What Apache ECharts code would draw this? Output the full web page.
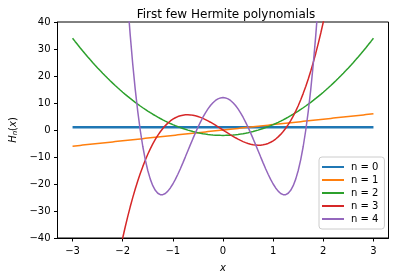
<!DOCTYPE html>
<html><head><meta charset="utf-8">
<script src="https://cdn.jsdelivr.net/npm/echarts@6/dist/echarts.min.js"></script>
<style>html,body{margin:0;padding:0;background:#fff}#c{width:394px;height:278px}</style>
</head><body><div id="c"></div>
<script>
const xs = [-3,-2.95,-2.9,-2.85,-2.8,-2.75,-2.7,-2.65,-2.6,-2.55,-2.5,-2.45,-2.4,-2.35,-2.3,-2.25,-2.2,-2.15,-2.1,-2.05,-2,-1.95,-1.9,-1.85,-1.8,-1.75,-1.7,-1.65,-1.6,-1.55,-1.5,-1.45,-1.4,-1.35,-1.3,-1.25,-1.2,-1.15,-1.1,-1.05,-1,-0.95,-0.9,-0.85,-0.8,-0.75,-0.7,-0.65,-0.6,-0.55,-0.5,-0.45,-0.4,-0.35,-0.3,-0.25,-0.2,-0.15,-0.1,-0.05,0,0.05,0.1,0.15,0.2,0.25,0.3,0.35,0.4,0.45,0.5,0.55,0.6,0.65,0.7,0.75,0.8,0.85,0.9,0.95,1,1.05,1.1,1.15,1.2,1.25,1.3,1.35,1.4,1.45,1.5,1.55,1.6,1.65,1.7,1.75,1.8,1.85,1.9,1.95,2,2.05,2.1,2.15,2.2,2.25,2.3,2.35,2.4,2.45,2.5,2.55,2.6,2.65,2.7,2.75,2.8,2.85,2.9,2.95,3];
const h0 = [1,1,1,1,1,1,1,1,1,1,1,1,1,1,1,1,1,1,1,1,1,1,1,1,1,1,1,1,1,1,1,1,1,1,1,1,1,1,1,1,1,1,1,1,1,1,1,1,1,1,1,1,1,1,1,1,1,1,1,1,1,1,1,1,1,1,1,1,1,1,1,1,1,1,1,1,1,1,1,1,1,1,1,1,1,1,1,1,1,1,1,1,1,1,1,1,1,1,1,1,1,1,1,1,1,1,1,1,1,1,1,1,1,1,1,1,1,1,1,1,1];
const h1 = [-6,-5.9,-5.8,-5.7,-5.6,-5.5,-5.4,-5.3,-5.2,-5.1,-5,-4.9,-4.8,-4.7,-4.6,-4.5,-4.4,-4.3,-4.2,-4.1,-4,-3.9,-3.8,-3.7,-3.6,-3.5,-3.4,-3.3,-3.2,-3.1,-3,-2.9,-2.8,-2.7,-2.6,-2.5,-2.4,-2.3,-2.2,-2.1,-2,-1.9,-1.8,-1.7,-1.6,-1.5,-1.4,-1.3,-1.2,-1.1,-1,-0.9,-0.8,-0.7,-0.6,-0.5,-0.4,-0.3,-0.2,-0.1,0,0.1,0.2,0.3,0.4,0.5,0.6,0.7,0.8,0.9,1,1.1,1.2,1.3,1.4,1.5,1.6,1.7,1.8,1.9,2,2.1,2.2,2.3,2.4,2.5,2.6,2.7,2.8,2.9,3,3.1,3.2,3.3,3.4,3.5,3.6,3.7,3.8,3.9,4,4.1,4.2,4.3,4.4,4.5,4.6,4.7,4.8,4.9,5,5.1,5.2,5.3,5.4,5.5,5.6,5.7,5.8,5.9,6];
const h2 = [34,32.81,31.64,30.49,29.36,28.25,27.16,26.09,25.04,24.01,23,22.01,21.04,20.09,19.16,18.25,17.36,16.49,15.64,14.81,14,13.21,12.44,11.69,10.96,10.25,9.56,8.89,8.24,7.61,7,6.41,5.84,5.29,4.76,4.25,3.76,3.29,2.84,2.41,2,1.61,1.24,0.89,0.56,0.25,-0.04,-0.31,-0.56,-0.79,-1,-1.19,-1.36,-1.51,-1.64,-1.75,-1.84,-1.91,-1.96,-1.99,-2,-1.99,-1.96,-1.91,-1.84,-1.75,-1.64,-1.51,-1.36,-1.19,-1,-0.79,-0.56,-0.31,-0.04,0.25,0.56,0.89,1.24,1.61,2,2.41,2.84,3.29,3.76,4.25,4.76,5.29,5.84,6.41,7,7.61,8.24,8.89,9.56,10.25,10.96,11.69,12.44,13.21,14,14.81,15.64,16.49,17.36,18.25,19.16,20.09,21.04,22.01,23,24.01,25.04,26.09,27.16,28.25,29.36,30.49,31.64,32.81,34];
const h3 = [-180,-169.98,-160.31,-150.99,-142.02,-133.38,-125.06,-117.08,-109.41,-102.05,-95,-88.25,-81.79,-75.62,-69.74,-64.13,-58.78,-53.71,-48.89,-44.32,-40,-35.92,-32.07,-28.45,-25.06,-21.88,-18.9,-16.14,-13.57,-11.19,-9,-6.99,-5.15,-3.48,-1.98,-0.63,0.58,1.63,2.55,3.34,4,4.54,4.97,5.29,5.5,5.63,5.66,5.6,5.47,5.27,5,4.67,4.29,3.86,3.38,2.88,2.34,1.77,1.19,0.6,0,-0.6,-1.19,-1.77,-2.34,-2.88,-3.38,-3.86,-4.29,-4.67,-5,-5.27,-5.47,-5.6,-5.66,-5.63,-5.5,-5.29,-4.97,-4.54,-4,-3.34,-2.55,-1.63,-0.58,0.63,1.98,3.48,5.15,6.99,9,11.19,13.57,16.14,18.9,21.88,25.06,28.45,32.07,35.92,40,44.32,48.89,53.71,58.78,64.13,69.74,75.62,81.79,88.25,95,102.05,109.41,117.08,125.06,133.38,142.02,150.99,160.31,169.98,180];
const h4 = [876,806.02,739.97,677.72,619.13,564.06,512.39,463.97,418.68,376.4,337,300.36,266.36,234.89,205.83,179.06,154.49,132,111.49,92.86,76,60.82,47.23,35.14,24.44,15.06,6.91,-0.09,-6.02,-10.97,-15,-18.19,-20.61,-22.34,-23.42,-23.94,-23.94,-23.5,-22.65,-21.47,-20,-18.29,-16.38,-14.33,-12.17,-9.94,-7.68,-5.42,-3.21,-1.06,1,2.94,4.73,6.36,7.81,9.06,10.11,10.93,11.52,11.88,12,11.88,11.52,10.93,10.11,9.06,7.81,6.36,4.73,2.94,1,-1.06,-3.21,-5.42,-7.68,-9.94,-12.17,-14.33,-16.38,-18.29,-20,-21.47,-22.65,-23.5,-23.94,-23.94,-23.42,-22.34,-20.61,-18.19,-15,-10.97,-6.02,-0.09,6.91,15.06,24.44,35.14,47.23,60.82,76,92.86,111.49,132,154.49,179.06,205.83,234.89,266.36,300.36,337,376.4,418.68,463.97,512.39,564.06,619.13,677.72,739.97,806.02,876];
const names = ['n = 0','n = 1','n = 2','n = 3','n = 4'];
const colors = ['#1f77b4','#ff7f0e','#2ca02c','#d62728','#9467bd'];
const xTicks = [-3,-2,-1,0,1,2,3];
const series = [h0,h1,h2,h3,h4];
const font = 'DejaVu Sans';
const minus = v => String(v).replace('-', '\u2212');
const chart = echarts.init(document.getElementById('c'), null, {renderer:'canvas'});
chart.setOption({
  animation:false,
  color: colors,
  title:{text:'First few Hermite polynomials', left:221, textAlign:'center', top:4,
    textStyle:{fontFamily:font,fontSize:12,fontWeight:'normal',color:'#000'}},
  grid:{left:53.5,right:5.5,top:22,bottom:38,show:true,borderColor:'#000',borderWidth:1,backgroundColor:'transparent'},
  legend:{orient:'vertical', left:319, top:157, width:64,
    backgroundColor:'rgba(255,255,255,0.8)', borderColor:'#ccc', borderWidth:1, borderRadius:3,
    padding:[5,6,5,3], itemWidth:22, itemHeight:2, itemGap:3, icon:'rect',
    textStyle:{fontFamily:font,fontSize:10,color:'#000',padding:[0,0,0,2]},
    data:names},
  xAxis:{type:'value', min:-3.3, max:3.3,
    name:'x', nameLocation:'middle', nameGap:25,
    nameTextStyle:{fontFamily:font,fontSize:10,fontStyle:'italic',color:'#000'},
    axisLine:{show:true,onZero:false,lineStyle:{color:'#000',width:1}},
    axisTick:{show:true,length:3.5,lineStyle:{color:'#000'},customValues:xTicks},
    axisLabel:{fontFamily:font,fontSize:10,color:'#000',margin:8,customValues:xTicks,formatter:minus},
    splitLine:{show:false}},
  yAxis:{type:'value', min:-40, max:40, interval:10,
    name:'{i|H}{s|n}{p|(}{i|x}{p|)}', nameLocation:'middle', nameGap:36, nameRotate:90,
    nameTextStyle:{fontFamily:font,fontSize:10,color:'#000',
      rich:{i:{fontFamily:font,fontSize:10,fontStyle:'italic',color:'#000'},
            s:{fontFamily:font,fontSize:7,fontStyle:'italic',color:'#000',verticalAlign:'bottom',padding:[4,0,0,0]},
            p:{fontFamily:font,fontSize:10,color:'#000'}}},
    axisLine:{show:true,onZero:false,lineStyle:{color:'#000',width:1}},
    axisTick:{show:true,length:3.5,lineStyle:{color:'#000'}},
    axisLabel:{fontFamily:font,fontSize:10,color:'#000',margin:7,formatter:minus},
    splitLine:{show:false}},
  series: series.map((s,i)=>({
    name:names[i], type:'line', clip:true, showSymbol:false, symbol:'none',
    data: xs.map((x,j)=>[x,s[j]]),
    lineStyle:{width: i===0?2.6:1.5, color:colors[i]},
    itemStyle:{color:colors[i]}
  }))
});
</script></body></html>
